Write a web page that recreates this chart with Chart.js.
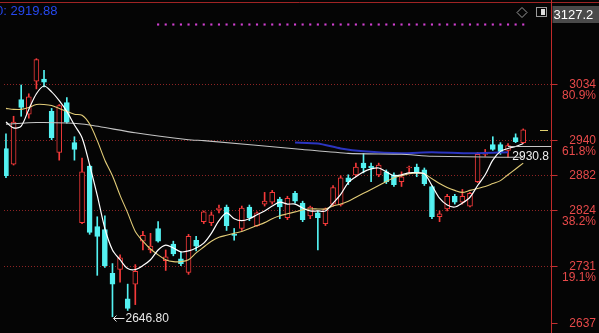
<!DOCTYPE html>
<html>
<head>
<meta charset="utf-8">
<title>K线</title>
<script src="https://cdn.jsdelivr.net/npm/chart.js"></script>
<style>
html, body { margin: 0; padding: 0; background: #050505; }
#box { width: 599px; height: 333px; position: relative; }
</style>
</head>
<body>
<div id="box"><canvas id="kline"></canvas></div>
<script>
// 日K数据
const openVals = [2926.2, 2900.3, 3007.3, 2983.0, 3038.0, 3041.3, 2987.8, 2919.8, 3002.4, 2935.9,
    2803.1, 2897.1, 2796.6, 2791.7, 2718.8, 2725.3, 2676.7, 2701.0, 2772.3, 2757.7,
    2793.4, 2739.9, 2767.4, 2743.2, 2720.5, 2773.9, 2804.7, 2803.1, 2824.2, 2829.0,
    2783.7, 2793.4, 2829.0, 2798.2, 2833.9, 2837.1, 2842.0, 2811.2, 2851.7, 2835.5,
    2814.4, 2819.3, 2801.5, 2833.9, 2832.3, 2877.6, 2882.5, 2901.9, 2897.1, 2882.5,
    2887.4, 2882.5, 2871.2, 2893.8, 2895.5, 2890.6, 2863.1, 2812.8, 2825.8, 2846.9,
    2837.1, 2830.6, 2871.2, 2916.5, 2932.7, 2932.7, 2923.0, 2944.1, 2935.9];
const highVals = [2950.5, 2979.7, 3031.6, 3017.0, 3075.3, 3055.9, 2992.7, 2999.2, 3010.5, 2945.7,
    2910.1, 2898.7, 2812.8, 2814.4, 2735.1, 2749.6, 2701.0, 2733.4, 2788.5, 2785.3,
    2804.7, 2757.7, 2772.3, 2754.5, 2783.7, 2780.4, 2822.5, 2820.9, 2832.3, 2832.3,
    2793.4, 2830.6, 2832.3, 2820.9, 2853.3, 2856.6, 2845.2, 2846.9, 2854.9, 2838.7,
    2830.6, 2822.5, 2827.4, 2864.7, 2880.9, 2882.5, 2901.9, 2918.1, 2901.9, 2901.9,
    2890.6, 2885.7, 2887.4, 2897.1, 2900.3, 2893.8, 2864.7, 2822.5, 2850.1, 2850.1,
    2858.2, 2853.3, 2919.8, 2924.6, 2945.7, 2935.9, 2934.4, 2950.5, 2958.7];
const lowVals = [2877.6, 2898.7, 2979.7, 2976.5, 3025.1, 3028.3, 2940.8, 2906.8, 2968.4, 2906.8,
    2801.5, 2783.7, 2715.6, 2728.6, 2646.8, 2704.3, 2657.3, 2667.0, 2757.7, 2752.9,
    2770.7, 2723.7, 2748.0, 2731.8, 2717.2, 2756.1, 2801.5, 2798.2, 2819.3, 2790.1,
    2773.9, 2790.1, 2806.3, 2796.6, 2830.6, 2833.9, 2809.6, 2808.0, 2835.5, 2804.7,
    2809.6, 2757.7, 2798.2, 2830.6, 2830.6, 2866.3, 2879.3, 2885.7, 2871.2, 2879.3,
    2867.9, 2863.1, 2863.1, 2885.7, 2879.3, 2864.7, 2809.6, 2804.7, 2822.5, 2833.9,
    2833.9, 2829.0, 2869.5, 2913.3, 2923.0, 2916.5, 2911.7, 2935.9, 2934.4];
const closeVals = [2880.9, 2970.0, 2994.3, 3012.1, 3073.7, 3036.4, 2944.1, 2997.5, 2970.0, 2924.6,
    2887.4, 2786.9, 2780.4, 2731.8, 2701.0, 2744.8, 2660.5, 2722.1, 2782.0, 2764.2,
    2772.3, 2746.4, 2751.3, 2735.1, 2780.4, 2764.2, 2820.9, 2816.1, 2827.4, 2798.2,
    2782.0, 2827.4, 2811.2, 2819.3, 2838.7, 2853.3, 2829.0, 2843.6, 2838.7, 2808.0,
    2829.0, 2811.2, 2825.8, 2861.4, 2877.6, 2871.2, 2895.5, 2893.8, 2893.8, 2898.7,
    2871.2, 2866.3, 2879.3, 2895.5, 2885.7, 2867.9, 2812.8, 2817.7, 2846.9, 2837.1,
    2846.9, 2851.7, 2916.5, 2918.1, 2924.6, 2919.8, 2931.1, 2937.6, 2957.0];

// 均线（白=短期，黄=中期）
const maShortVals = [2970.0, 2960.3, 2963.5, 2991.1, 3017.0, 3029.9, 3020.2, 3005.6, 2987.8, 2965.1,
    2944.1, 2898.7, 2848.4, 2793.4, 2757.7, 2741.5, 2726.9, 2725.3, 2731.8, 2741.5,
    2757.7, 2765.8, 2760.9, 2754.5, 2756.1, 2760.9, 2769.0, 2785.3, 2806.3, 2819.3,
    2809.6, 2806.3, 2809.6, 2816.1, 2822.5, 2830.6, 2837.1, 2833.9, 2833.9, 2827.4,
    2822.5, 2822.5, 2822.5, 2835.5, 2850.1, 2869.5, 2879.3, 2887.4, 2892.2, 2893.8,
    2887.4, 2880.9, 2882.5, 2885.7, 2885.7, 2884.1, 2864.7, 2843.6, 2832.3, 2829.0,
    2835.5, 2845.2, 2864.7, 2882.5, 2906.8, 2921.4, 2926.2, 2929.5, 2934.4];
const maMidVals = [2992.7, 2991.1, 2991.1, 2994.3, 2999.2, 2999.2, 2997.5, 2992.7, 2987.8, 2983.0,
    2981.3, 2966.7, 2939.2, 2906.8, 2880.9, 2848.4, 2819.3, 2788.5, 2772.3, 2759.3,
    2749.6, 2741.5, 2738.3, 2738.3, 2741.5, 2752.9, 2762.6, 2772.3, 2778.8, 2782.0,
    2785.3, 2788.5, 2793.4, 2798.2, 2803.1, 2809.6, 2814.4, 2817.7, 2820.9, 2824.2,
    2825.8, 2825.8, 2825.8, 2830.6, 2833.9, 2838.7, 2845.2, 2851.7, 2858.2, 2864.7,
    2871.2, 2877.6, 2880.9, 2884.1, 2885.7, 2884.1, 2876.0, 2867.9, 2861.4, 2856.6,
    2853.3, 2856.6, 2859.8, 2863.1, 2867.9, 2872.8, 2882.5, 2892.2, 2901.9];

// 长期均线（灰）和蓝线，只在部分K线位置读数
const maLongIdx = [0, 4, 8, 11, 17, 24, 26, 39, 45, 52, 56, 65, 68];
const maLongVals = [2966.7, 2969.2, 2968.4, 2965.1, 2952.2, 2940.8, 2939.2, 2924.6, 2918.1, 2916.5, 2913.3, 2911.7, 2911.7];
const blueIdx = [38, 41, 44, 47, 52, 56, 61, 66];
const blueVals = [2936.0, 2934.4, 2926.2, 2921.4, 2918.1, 2919.8, 2918.1, 2919.8];

// 右侧刻度（黄金分割）
const tickVals = [3034, 2940, 2882, 2824, 2731, 2637];
const tickPct = ['80.9%', '61.8%', '', '38.2%', '19.1%', ''];
const gridVals = [3034, 2940, 2882, 2824, 2731];
const topAxisLabel = '3127.2';
const refLevel = 2930.8;
const blueLabel = '0: 2919.88';
const dotLevel = 3132;
const dotFrom = 20;

const bgColor = '#050505';
const upColor = '#f53a3a';
const downColor = '#54f2f2';

const idx = openVals.map((_, i) => i);
const isUp = i => closeVals[i] > openVals[i];

const klinePlugin = {
    id: 'klineDeco',
    beforeDraw(chart) {
        const c = chart.ctx;
        c.save();
        c.fillStyle = bgColor;
        c.fillRect(0, 0, chart.width, chart.height);
        c.restore();
    },
    beforeDatasetsDraw(chart) {
        const c = chart.ctx, area = chart.chartArea, ys = chart.scales.y;
        c.save();
        c.strokeStyle = '#8e2424';
        c.lineWidth = 1;
        c.setLineDash([1, 2]);
        gridVals.forEach(v => {
            const py = Math.round(ys.getPixelForValue(v)) + 0.5;
            c.beginPath();
            c.moveTo(area.left, py);
            c.lineTo(area.right, py);
            c.stroke();
        });
        c.restore();
    },
    afterDatasetsDraw(chart) {
        const c = chart.ctx, area = chart.chartArea;
        const xs = chart.scales.x, ys = chart.scales.y;
        const font = '12px "Liberation Sans", Arial, sans-serif';
        c.save();

        // 顶部横线
        c.strokeStyle = '#a02424';
        c.lineWidth = 1;
        c.beginPath();
        c.moveTo(0, 2.5);
        c.lineTo(chart.width, 2.5);
        c.stroke();

        // 右侧坐标轴
        const axX = Math.round(area.right) + 0.5;
        c.strokeStyle = '#c02a2a';
        c.beginPath();
        c.moveTo(axX, 0);
        c.lineTo(axX, chart.height);
        c.stroke();

        c.font = font;
        c.textAlign = 'right';
        c.textBaseline = 'middle';
        tickVals.forEach((v, k) => {
            const py = Math.round(ys.getPixelForValue(v)) + 0.5;
            c.strokeStyle = '#c03030';
            c.beginPath();
            c.moveTo(axX, py);
            c.lineTo(axX + 6, py);
            c.stroke();
            c.fillStyle = '#e84a4a';
            c.fillText(String(v), chart.width - 3, py);
            if (tickPct[k]) c.fillText(tickPct[k], chart.width - 3, py + 11);
        });

        // 顶部数值框
        c.fillStyle = '#4a4a4a';
        c.fillRect(axX + 1, 6, chart.width - axX, 17);
        c.fillStyle = '#ffffff';
        c.textAlign = 'left';
        c.font = '13px "Liberation Sans", Arial, sans-serif';
        c.fillText(topAxisLabel, axX + 2, 15);
        c.font = font;

        // 小图标
        c.strokeStyle = '#9a9a9a';
        c.beginPath();
        c.moveTo(522, 7.5); c.lineTo(527, 12.5); c.lineTo(522, 17.5); c.lineTo(517, 12.5); c.closePath();
        c.stroke();
        c.strokeRect(536.5, 7.5, 10, 9);
        c.fillStyle = '#dddddd';
        c.fillRect(541, 9, 4, 6);

        // 左上角蓝色文字
        c.fillStyle = '#2648ee';
        c.font = '13px "Liberation Sans", Arial, sans-serif';
        c.fillText(blueLabel, -4, 11);
        c.font = font;

        // 最低价标注
        const lowMin = Math.min(...lowVals);
        const li = lowVals.indexOf(lowMin);
        const lx = xs.getPixelForValue(li), ly = Math.round(ys.getPixelForValue(lowMin)) + 1.5;
        c.strokeStyle = '#e8e8e8';
        c.beginPath();
        c.moveTo(lx + 1, ly); c.lineTo(lx + 12, ly);
        c.moveTo(lx + 4, ly - 3); c.lineTo(lx + 1, ly); c.lineTo(lx + 4, ly + 3);
        c.stroke();
        c.fillStyle = '#e8e8e8';
        c.fillText(lowMin.toFixed(2), lx + 13, ly);

        // 参考价位线
        const ry = Math.round(ys.getPixelForValue(refLevel)) + 0.5;
        c.strokeStyle = '#c8c8c8';
        c.beginPath();
        c.moveTo(xs.getPixelForValue(66), ry);
        c.lineTo(area.right, ry);
        c.stroke();
        c.fillStyle = '#f0f0f0';
        c.textAlign = 'right';
        c.fillText(refLevel.toFixed(1), area.right - 2, ry + 10);

        // 最新收盘价短线
        const last = closeVals[closeVals.length - 1];
        const cy = Math.round(ys.getPixelForValue(last)) + 0.5;
        c.strokeStyle = '#e0d070';
        c.beginPath();
        c.moveTo(area.right - 11, cy);
        c.lineTo(area.right - 3, cy);
        c.stroke();

        c.restore();
    }
};

const ctx = document.getElementById('kline').getContext('2d');
new Chart(ctx, {
    type: 'bar',
    data: {
        datasets: [
            {
                type: 'line', label: 'MA5',
                data: maShortVals.map((v, i) => ({ x: i, y: v })),
                borderColor: '#ffffff', borderWidth: 1.2, pointRadius: 0, tension: 0.3, order: 0
            },
            {
                type: 'line', label: 'MA10',
                data: maMidVals.map((v, i) => ({ x: i, y: v })),
                borderColor: '#e2cc78', borderWidth: 1.1, pointRadius: 0, tension: 0.3, order: 0
            },
            {
                type: 'line', label: 'MA长',
                data: maLongIdx.map((k, j) => ({ x: k, y: maLongVals[j] })),
                borderColor: '#c4c4c4', borderWidth: 1.1, pointRadius: 0, tension: 0.2, order: 1
            },
            {
                type: 'line', label: '蓝线',
                data: blueIdx.map((k, j) => ({ x: k, y: blueVals[j] })),
                borderColor: '#2b35c0', borderWidth: 2, pointRadius: 0, tension: 0.2, order: 1
            },
            {
                type: 'line', label: '点',
                data: idx.filter(i => i >= dotFrom).map(i => ({ x: i, y: dotLevel })),
                showLine: false, pointStyle: 'rect', pointRadius: 1.5, pointBorderWidth: 0,
                pointBackgroundColor: '#d040d0', order: 1
            },
            {
                label: '实体',
                data: idx.map(i => ({ x: i, y: [openVals[i], closeVals[i]] })),
                backgroundColor: idx.map(i => isUp(i) ? bgColor : downColor),
                borderColor: idx.map(i => isUp(i) ? upColor : downColor),
                borderWidth: 1, borderSkipped: false, barThickness: 5, grouped: false, order: 2
            },
            {
                label: '影线',
                data: idx.map(i => ({ x: i, y: [lowVals[i], highVals[i]] })),
                backgroundColor: idx.map(i => isUp(i) ? upColor : downColor),
                borderWidth: 0, barThickness: 1, grouped: false, order: 3
            }
        ]
    },
    options: {
        responsive: true,
        maintainAspectRatio: false,
        animation: false,
        events: [],
        layout: { padding: { left: 0, right: 48, top: 0, bottom: 0 } },
        plugins: { legend: { display: false }, tooltip: { enabled: false } },
        scales: {
            x: { type: 'linear', min: -0.26, max: 71.65, offset: false, display: false },
            y: { type: 'linear', min: 2626.5, max: 3166.05, display: false }
        }
    },
    plugins: [klinePlugin]
});
</script>
</body>
</html>
